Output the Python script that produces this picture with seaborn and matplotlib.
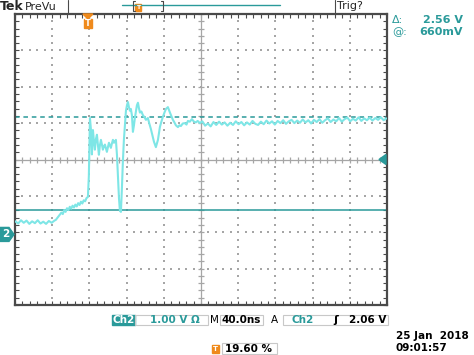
import numpy as np
import pandas as pd
import seaborn as sns
import matplotlib.pyplot as plt
from matplotlib.patches import Rectangle, Polygon

# 示波器設定 (Tek screenshot)
volts_per_div = 1.00
ns_per_div = 40.0
trig_pct = 19.60
trig_level = 2.06
cursor_at = 0.66
cursor_delta = 2.56

# 波形資料 (時間 ns, 電壓 V)
t_ns = [-78, -75, -72, -69, -66, -63, -60, -57, -54, -51, -48, -45, -42, -39, -36,
        -34.5, -33, -31.5, -30, -28.5, -27, -25.5, -24, -22.5, -21, -19.5, -18,
        -16.5, -15, -13.5, -12, -10.5, -9, -7.5, -6, -4.5, -3, -1.5, 0,
        1, 2.2, 3.2, 4.3, 5.4, 6.5, 7.5, 8.6, 9.7, 10.8, 11.8, 12.9, 14, 15, 16.1,
        17.2, 18.3, 19.4, 20.4, 21.5, 22.6, 23.7, 24.7, 25.8, 26.9, 28, 29, 30.1,
        31.2, 32.3, 33.4, 34.4, 35.5, 36.6, 37.6, 38.7, 39.8, 40.9, 42, 43, 44.1,
        45.2, 46.2, 47.3, 48.4, 49.5, 50.5, 51.6, 52.7, 53.8, 54.8, 55.9, 57.5,
        59.1, 60.8, 62.4, 64.5, 66, 67.7, 69.4, 71, 73.1, 75.3, 77.4, 79, 80.6,
        82.3, 83.9, 86, 88.2, 89.8, 91.4, 93, 94.6, 96.8, 98.4, 100, 102, 104.3,
        106, 107.5, 109.6, 111.8, 114, 116, 118, 120.4,
        123, 126, 129, 132, 135, 138, 141, 144, 147, 150, 153, 156, 159, 162, 165,
        168, 171, 174, 177, 180, 183, 186, 189, 192, 195, 198, 201, 204, 207, 210,
        213, 216, 219, 222, 225, 228, 231, 234, 237, 240, 243, 246, 249, 252, 255,
        258, 261, 264, 267, 270, 273, 276, 279, 282, 285, 288, 291, 294, 297, 300,
        303, 306, 309, 312, 315, 318, 321]
v_volts = [0.36, 0.30, 0.39, 0.32, 0.38, 0.29, 0.36, 0.31, 0.39, 0.30, 0.35, 0.29, 0.37, 0.32, 0.38,
           0.40, 0.45, 0.50, 0.55, 0.60, 0.56, 0.67, 0.62, 0.72, 0.67, 0.76, 0.71,
           0.79, 0.74, 0.82, 0.77, 0.86, 0.81, 0.90, 0.85, 0.94, 0.91, 1.00, 1.03,
           1.60, 3.20, 2.90, 2.20, 2.87, 2.55, 2.33, 2.62, 2.74, 2.45, 2.19, 2.45, 2.60, 2.48, 2.33,
           2.42, 2.47, 2.36, 2.27, 2.40, 2.52, 2.45, 2.38, 2.50, 2.60, 2.52, 2.55, 2.60,
           2.20, 1.60, 1.00, 0.65, 0.62, 1.30, 2.00, 2.60, 3.00, 3.40, 3.55, 3.64, 3.50,
           3.40, 3.45, 3.28, 2.82, 3.00, 3.20, 3.38, 3.55, 3.62, 3.48, 3.35, 3.38,
           3.28, 3.22, 3.15, 3.20, 3.05, 2.90, 2.72, 2.55, 2.40, 2.60, 2.95, 3.10, 3.23,
           3.35, 3.45, 3.50, 3.35, 3.25, 3.15, 3.08, 3.00, 2.95, 3.00, 2.98, 3.05, 3.06,
           3.02, 3.12, 3.10, 3.17, 3.10, 3.08, 3.12, 3.06,
           3.11, 2.99, 3.05, 2.97, 3.09, 3.01, 3.10, 3.02, 3.08, 2.99,
           3.07, 3.01, 3.11, 3.03, 3.09, 3.00, 3.08, 3.02, 3.12, 3.04,
           3.01, 3.10, 3.03, 3.13, 3.05, 3.11, 3.02, 3.12, 3.06, 3.14,
           3.04, 3.11, 3.15, 3.06, 3.13, 3.07, 3.16, 3.08, 3.14, 3.05,
           3.15, 3.09, 3.17, 3.07, 3.14, 3.19, 3.09, 3.16, 3.11, 3.20,
           3.10, 3.17, 3.21, 3.11, 3.18, 3.13, 3.22, 3.12, 3.19, 3.14,
           3.21, 3.13, 3.20, 3.15, 3.22, 3.14, 3.19]

df = pd.DataFrame({'t': t_ns, 'v': v_volts})

# 顏色
trace_c = '#7ee6e6'
teal = '#2a9a9a'
orange = '#ef8a1c'
border_c = '#4a4a4a'
grid_c = '#a6a6a6'

W, H = 474, 355
def fx(x):
    return x / W
def fy(y):
    return 1 - y / H

sns.set_style('white')
plt.rcParams['font.family'] = ['DejaVu Sans']

fig = plt.figure(figsize=(4.74, 3.55), dpi=100)
fig.patch.set_facecolor('white')
ax = fig.add_axes([fx(15), fy(305), 372 / W, 291 / H])

x0 = -trig_pct / 100 * 10 * ns_per_div
xlim = (x0, x0 + 10 * ns_per_div)
ylim = (trig_level - 4 * volts_per_div, trig_level + 4 * volts_per_div)

# 格線(點狀)
xdiv = [xlim[0] + k * ns_per_div for k in range(11)]
ydiv = [ylim[0] + k * volts_per_div for k in range(9)]
xmin_ = [xlim[0] + k * ns_per_div / 5 for k in range(51)]
ymin_ = [ylim[0] + k * volts_per_div / 5 for k in range(41)]
for k in range(1, 10):
    if k == 5:
        continue
    ax.scatter([xdiv[k]] * 39, ymin_[1:40], s=1.3, marker='s', color=grid_c, linewidths=0, zorder=1)
for k in range(1, 8):
    if k == 4:
        continue
    ax.scatter(xmin_[1:50], [ydiv[k]] * 49, s=1.3, marker='s', color=grid_c, linewidths=0, zorder=1)

# 中心十字線
xc, yc = xdiv[5], ydiv[4]
ax.axhline(yc, color=grid_c, lw=0.9, zorder=1)
ax.axvline(xc, color=grid_c, lw=0.9, zorder=1)
ax.plot(xmin_, [yc] * len(xmin_), ls='', marker='|', ms=4, mew=0.9, color=grid_c, zorder=1)
ax.plot([xc] * len(ymin_), ymin_, ls='', marker='_', ms=4, mew=0.9, color=grid_c, zorder=1)

# 游標
ax.axhline(cursor_at, color=teal, lw=1.1, zorder=2)
ax.axhline(cursor_at + cursor_delta, color=teal, lw=1.1, ls=(0, (3, 2.5)), zorder=2)

# 波形
sns.lineplot(data=df, x='t', y='v', ax=ax, color=trace_c, lw=1.5, sort=False,
             estimator=None, zorder=3)

ax.set_xlim(xlim)
ax.set_ylim(ylim)
ax.set_xticks([])
ax.set_yticks([])
ax.set_xticks(xmin_, minor=True)
ax.set_yticks(ymin_, minor=True)
ax.tick_params(which='minor', direction='in', length=3, width=0.8, color=border_c,
               top=True, right=True, bottom=True, left=True,
               labelbottom=False, labelleft=False)
ax.set_xlabel('')
ax.set_ylabel('')
for s in ax.spines.values():
    s.set_color(border_c)
    s.set_linewidth(1.6)

# 頂部狀態列
fig.text(fx(0), fy(7), 'Tek', fontsize=9, fontweight='bold', va='center', ha='left')
fig.text(fx(25), fy(7), 'PreVu', fontsize=8, va='center', ha='left')
fig.add_artist(plt.Line2D([fx(68), fx(68)], [fy(0), fy(13)], color=border_c, lw=0.8))
fig.add_artist(plt.Line2D([fx(335), fx(335)], [fy(0), fy(13)], color=border_c, lw=0.8))
fig.text(fx(337), fy(6), 'Trig?', fontsize=8, va='center', ha='left')
fig.add_artist(plt.Line2D([fx(122), fx(280)], [fy(5), fy(5)], color=teal, lw=1.0))
fig.add_artist(plt.Line2D([fx(135), fx(133), fx(133), fx(135)], [fy(1), fy(1), fy(11), fy(11)], color=border_c, lw=0.8))
fig.add_artist(plt.Line2D([fx(161), fx(163), fx(163), fx(161)], [fy(1), fy(1), fy(11), fy(11)], color=border_c, lw=0.8))
fig.add_artist(Rectangle((fx(135), fy(11)), 6 / W, 7 / H, color=orange))
fig.text(fx(138), fy(7.5), 'T', fontsize=4.5, color='white', ha='center', va='center', fontweight='bold')

# 觸發位置 T 標記
tpx = 15 + trig_pct / 100 * 372
fig.add_artist(Polygon([(fx(tpx - 5), fy(14)), (fx(tpx + 5), fy(14)), (fx(tpx), fy(19))], color=orange))
fig.add_artist(Rectangle((fx(tpx - 4), fy(28)), 8 / W, 9 / H, color=orange))
fig.text(fx(tpx), fy(23.5), 'T', fontsize=6, color='white', ha='center', va='center', fontweight='bold')

# 游標讀數
fig.text(fx(392), fy(20), 'Δ:', fontsize=8, color=teal, va='center', ha='left')
fig.text(fx(463), fy(20), f'{cursor_delta:.2f} V', fontsize=8, color=teal, va='center', ha='right', fontweight='bold')
fig.text(fx(392), fy(32), '@:', fontsize=8, color=teal, va='center', ha='left')
fig.text(fx(463), fy(32), f'{cursor_at * 1000:.0f}mV', fontsize=8, color=teal, va='center', ha='right', fontweight='bold')

# 接地標記 "2"
gy = 305 - (0 - ylim[0]) / (ylim[1] - ylim[0]) * 291
fig.add_artist(Polygon([(fx(0), fy(gy - 7)), (fx(9), fy(gy - 7)), (fx(14), fy(gy)),
                        (fx(9), fy(gy + 7)), (fx(0), fy(gy + 7))], color=teal))
fig.text(fx(5.5), fy(gy), '2', fontsize=7.5, color='white', ha='center', va='center', fontweight='bold')

# 觸發準位箭頭
ty = 305 - (trig_level - ylim[0]) / (ylim[1] - ylim[0]) * 291
fig.add_artist(Polygon([(fx(379), fy(ty)), (fx(386), fy(ty - 5)), (fx(386), fy(ty + 5))], color=teal))

# 底部資訊列
by = 320
fig.add_artist(Rectangle((fx(112), fy(325)), 23 / W, 10 / H, color=teal))
fig.text(fx(123.5), fy(by), 'Ch2', fontsize=7.5, color='white', ha='center', va='center', fontweight='bold')
fig.add_artist(Rectangle((fx(135), fy(325)), 73 / W, 10 / H, fill=False, ec='#c8c8c8', lw=0.8))
fig.text(fx(150), fy(by), f'{volts_per_div:.2f} V Ω', fontsize=7.5, color=teal, ha='left', va='center', fontweight='bold')
fig.text(fx(210), fy(by), 'M', fontsize=7.5, color='black', ha='left', va='center')
fig.add_artist(Rectangle((fx(220), fy(325)), 43 / W, 10 / H, fill=False, ec='#c8c8c8', lw=0.8))
fig.text(fx(222), fy(by), f'{ns_per_div:.1f}ns', fontsize=7.5, color='black', ha='left', va='center', fontweight='bold')
fig.text(fx(271), fy(by), 'A', fontsize=7.5, color='black', ha='left', va='center')
fig.add_artist(Rectangle((fx(283), fy(325)), 105 / W, 10 / H, fill=False, ec='#c8c8c8', lw=0.8))
fig.text(fx(292), fy(by), 'Ch2', fontsize=7.5, color=teal, ha='left', va='center', fontweight='bold')
fig.text(fx(333), fy(by), 'ʃ', fontsize=8, color='black', ha='left', va='center', fontweight='bold')
fig.text(fx(386), fy(by), f'{trig_level:.2f} V', fontsize=7.5, color='black', ha='right', va='center', fontweight='bold')

fig.add_artist(Rectangle((fx(212), fy(353)), 7 / W, 8 / H, color=orange))
fig.text(fx(215.5), fy(349), 'T', fontsize=5, color='white', ha='center', va='center', fontweight='bold')
fig.add_artist(Rectangle((fx(222), fy(354)), 55 / W, 11 / H, fill=False, ec='#c8c8c8', lw=0.8))
fig.text(fx(225), fy(348.5), f'{trig_pct:.2f} %', fontsize=7.5, color='black', ha='left', va='center', fontweight='bold')

fig.text(fx(396), fy(336), '25 Jan  2018', fontsize=7.5, color='black', ha='left', va='center', fontweight='bold')
fig.text(fx(396), fy(348), '09:01:57', fontsize=7.5, color='black', ha='left', va='center', fontweight='bold')

fig.savefig('out.png', dpi=100, facecolor='white')
